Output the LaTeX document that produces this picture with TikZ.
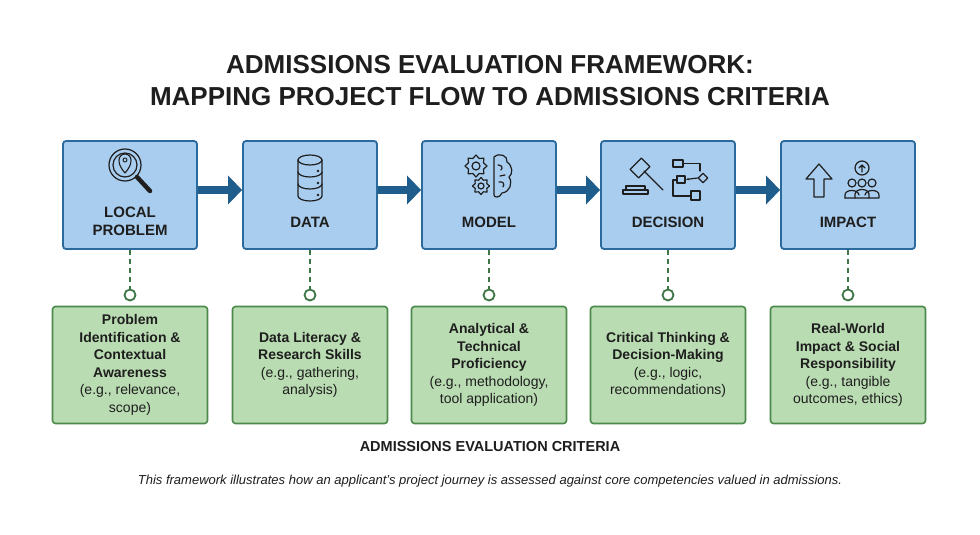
\documentclass[tikz,border=0pt]{standalone}
\usepackage{fontspec}
\setmainfont{Liberation Sans}
\usetikzlibrary{arrows.meta,shapes.geometric}
\definecolor{bfill}{HTML}{A9CDEE}
\definecolor{bline}{HTML}{2B6A9C}
\definecolor{arr}{HTML}{1F5D8C}
\definecolor{gfill}{HTML}{BADCB2}
\definecolor{gline}{HTML}{4C8A4C}
\definecolor{dline}{HTML}{3F7646}
\definecolor{ink}{HTML}{1E1E1E}
\tikzset{
 stage/.style={draw=bline,line width=1.8pt,fill=bfill,rounded corners=3pt,minimum width=134pt,minimum height=108pt,inner sep=0pt},
 crit/.style={draw=gline,line width=1.6pt,fill=gfill,rounded corners=3pt,minimum width=155pt,minimum height=117pt,inner sep=0pt},
 slabel/.style={font=\bfseries\fontsize{15}{18}\selectfont,text=ink,align=center},
 clabel/.style={font=\fontsize{14}{17.5}\selectfont,text=ink,align=center},
 flow/.style={draw=arr,line width=8pt,-{Triangle[length=14pt,width=28pt]}},
 link/.style={draw=dline,line width=2pt,dash pattern=on 5pt off 4pt},
 knob/.style={circle,draw=dline,line width=1.8pt,fill=white,minimum size=11pt,inner sep=0pt},
 icon/.style={draw=ink,line width=1.2pt,line cap=round,line join=round}
}
\begin{document}
\begin{tikzpicture}[x=1pt,y=-1pt]
\useasboundingbox[fill=white] (0,0) rectangle (980,535);
\node[font=\bfseries\fontsize{26}{32}\selectfont,text=ink,align=center] (title) at (490,81)
 {ADMISSIONS EVALUATION FRAMEWORK:\\MAPPING PROJECT FLOW TO ADMISSIONS CRITERIA};
% stages
\foreach \n/\x in {s1/130,s2/310,s3/489,s4/668,s5/848}{\node[stage] (\n) at (\x,195) {};}
\node[slabel] (t1) at (130,221) {LOCAL\\PROBLEM};
\node[slabel] (t2) at (310,222) {DATA};
\node[slabel] (t3) at (489,222) {MODEL};
\node[slabel] (t4) at (668,222) {DECISION};
\node[slabel] (t5) at (848,222) {IMPACT};
% flow arrows
\draw[flow] (s1.east|-0,190) -- (s2.west|-0,190);
\draw[flow] (s2.east|-0,190) -- (s3.west|-0,190);
\draw[flow] (s3.east|-0,190) -- (s4.west|-0,190);
\draw[flow] (s4.east|-0,190) -- (s5.west|-0,190);
% criteria
\foreach \n/\x in {c1/130,c2/310,c3/489,c4/668,c5/848}{\node[crit] (\n) at (\x,365) {};}
\node[clabel] at (c1) {\textbf{Problem}\\\textbf{Identification \&}\\\textbf{Contextual}\\\textbf{Awareness}\\(e.g., relevance,\\scope)};
\node[clabel] at (c2) {\textbf{Data Literacy \&}\\\textbf{Research Skills}\\(e.g., gathering,\\analysis)};
\node[clabel] at (c3) {\textbf{Analytical \&}\\\textbf{Technical}\\\textbf{Proficiency}\\(e.g., methodology,\\tool application)};
\node[clabel] at (c4) {\textbf{Critical Thinking \&}\\\textbf{Decision-Making}\\(e.g., logic,\\recommendations)};
\node[clabel] at (c5) {\textbf{Real-World}\\\textbf{Impact \& Social}\\\textbf{Responsibility}\\(e.g., tangible\\outcomes, ethics)};
% links
\foreach \i in {1,...,5}{
 \node[knob] (k\i) at (s\i.south|-0,295) {};
 \draw[link] (s\i.south) -- (k\i.north);
}
\node[font=\bfseries\fontsize{14.5}{17}\selectfont,text=ink] (crit) at (490,447) {ADMISSIONS EVALUATION CRITERIA};
\node[font=\itshape\fontsize{13}{15}\selectfont,text=ink] (cap) at (490,481) {This framework illustrates how an applicant’s project journey is assessed against core competencies valued in admissions.};
% icon 1: magnifier with pin
\draw[icon] (125,165) circle (16); \draw[icon] (125,165) circle (12);
\draw[icon,line width=4.5pt] (137,177) -- (150,191);
\draw[icon,fill=bfill,line width=1.1pt] (125,173) .. controls (120,167) and (119,164) .. (119,160) arc (180:360:6) .. controls (131,164) and (130,167) .. (125,173);
\draw[icon,line width=1pt] (125,160) circle (2);
% icon 2: database
\draw[icon] (298,160) -- (298,196) arc (180:0:12 and 5) -- (322,160);
\draw[icon] (298,172) arc (180:0:12 and 5);
\draw[icon] (298,184) arc (180:0:12 and 5);
\draw[icon] (310,160) ellipse (12 and 5);
\foreach \yy in {171,183,195}{\fill[ink] (318,\yy) circle (1.3);}
% icon 3: gears + brain
\node[icon,star,star points=8,star point ratio=1.35,minimum size=22pt,inner sep=0pt] (g1) at (476,166) {};
\draw[icon] (g1.center) circle (4);
\node[icon,star,star points=8,star point ratio=1.35,minimum size=17pt,inner sep=0pt] (g2) at (481,186) {};
\draw[icon] (g2.center) circle (3);
\draw[icon] (494,157) .. controls (500,152) and (508,156) .. (507,162) .. controls (513,166) and (513,174) .. (509,177) .. controls (513,183) and (510,192) .. (502,193) .. controls (500,198) and (494,198) .. (494,195) -- cycle;
\draw[icon] (498,165) .. controls (502,165) and (503,168) .. (501,170);
\draw[icon] (499,182) .. controls (503,181) and (505,184) .. (503,187);
\draw[icon] (505,175) -- (500,176);
% icon 4: gavel + flowchart
\draw[icon] (626,186) rectangle (645,190); \draw[icon] (623,190) rectangle (648,194);
\draw[icon,rotate around={45:(640,168)}] (632,162) rectangle (648,174);
\draw[icon] (644,171) -- (663,190);
\draw[icon] (673,160) rectangle (683,167); \draw[icon] (683,163.5) -- (700,163.5) -- (700,171);
\draw[icon] (677,176) rectangle (685,183);
\node[icon,diamond,minimum size=10pt,inner sep=0pt] (dm) at (703,178) {};
\draw[icon,->,>={Stealth[length=3pt]}] (dm.west) -- (686,179.5);
\draw[icon] (677,180) -- (673,180) -- (673,196) -- (690,196);
\draw[icon] (691,191) rectangle (700,200);
% icon 5: arrow + people
\draw[icon] (814,197) -- (814,179) -- (806,179) -- (819,164) -- (832,179) -- (824,179) -- (824,197) -- cycle;
\draw[icon] (862,168) circle (7);
\draw[icon] (862,172) -- (862,165) (859,168) -- (862,165) -- (865,168);
\foreach \px in {852,862,872}{\draw[icon,fill=bfill] (\px,183) circle (4);}
\draw[icon] (845,198) -- (845,195) .. controls (845,189) and (858,189) .. (859,195);
\draw[icon] (865,195) .. controls (866,189) and (879,189) .. (879,195) -- (879,198) -- (845,198);
\draw[icon] (855,198) -- (855,194) .. controls (856,188) and (868,188) .. (869,194) -- (869,198);
\end{tikzpicture}
\end{document}
